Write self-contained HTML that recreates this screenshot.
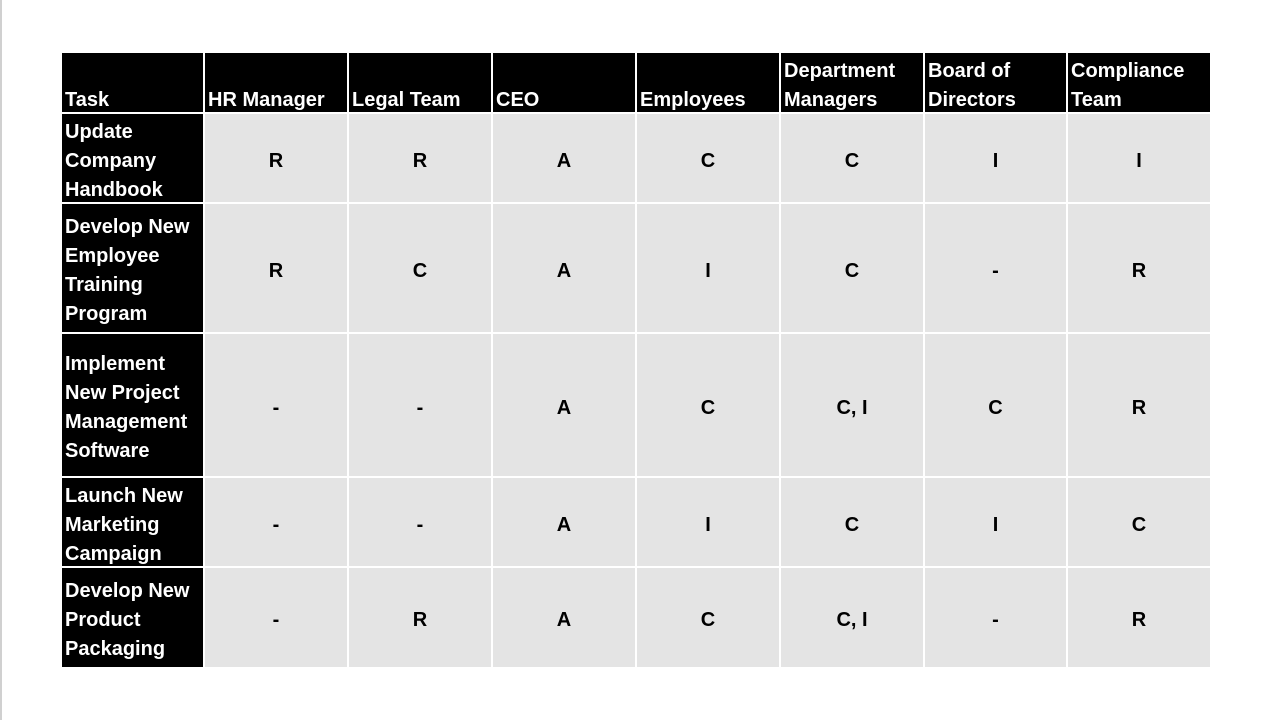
<!DOCTYPE html>
<html><head><meta charset="utf-8"><style>
body{margin:0;width:1280px;height:720px;background:#fff;position:relative;overflow:hidden;font-family:"Liberation Sans",sans-serif;font-weight:bold;}
.edge{position:absolute;left:0;top:0;width:2px;height:720px;background:#d0d0d0}
table{position:absolute;left:62px;top:53px;border-collapse:separate;border-spacing:0;}
td{padding:0;border-right:2px solid #fff;border-bottom:2px solid #fff;font-size:20px;line-height:29px;}
td span{position:relative;top:3px;}
tr.h td{background:#000;color:#fff;vertical-align:bottom;padding-left:3px;padding-bottom:1px;height:58px;}
tr.h td span{top:4px;}
td.t{background:#000;color:#fff;padding-left:3px;vertical-align:middle;}
td.c{background:#e4e4e4;color:#000;text-align:center;vertical-align:middle;}
</style></head><body>
<div class="edge"></div>
<table>
<colgroup><col style="width:143px"><col style="width:144px"><col style="width:144px"><col style="width:144px"><col style="width:144px"><col style="width:144px"><col style="width:143px"><col style="width:144px"></colgroup>
<tr class="h"><td><span>Task</span></td><td><span>HR Manager</span></td><td><span>Legal Team</span></td><td><span>CEO</span></td><td><span>Employees</span></td><td><span>Department<br>Managers</span></td><td><span>Board of<br>Directors</span></td><td><span>Compliance<br>Team</span></td></tr>
<tr style="height:90px"><td class="t"><span>Update<br>Company<br>Handbook</span></td><td class="c"><span>R</span></td><td class="c"><span>R</span></td><td class="c"><span>A</span></td><td class="c"><span>C</span></td><td class="c"><span>C</span></td><td class="c"><span>I</span></td><td class="c"><span>I</span></td></tr>
<tr style="height:130px"><td class="t"><span>Develop New<br>Employee<br>Training<br>Program</span></td><td class="c"><span>R</span></td><td class="c"><span>C</span></td><td class="c"><span>A</span></td><td class="c"><span>I</span></td><td class="c"><span>C</span></td><td class="c"><span>-</span></td><td class="c"><span>R</span></td></tr>
<tr style="height:144px"><td class="t"><span>Implement<br>New Project<br>Management<br>Software</span></td><td class="c"><span>-</span></td><td class="c"><span>-</span></td><td class="c"><span>A</span></td><td class="c"><span>C</span></td><td class="c"><span>C, I</span></td><td class="c"><span>C</span></td><td class="c"><span>R</span></td></tr>
<tr style="height:90px"><td class="t"><span>Launch New<br>Marketing<br>Campaign</span></td><td class="c"><span>-</span></td><td class="c"><span>-</span></td><td class="c"><span>A</span></td><td class="c"><span>I</span></td><td class="c"><span>C</span></td><td class="c"><span>I</span></td><td class="c"><span>C</span></td></tr>
<tr style="height:101px"><td class="t"><span>Develop New<br>Product<br>Packaging</span></td><td class="c"><span>-</span></td><td class="c"><span>R</span></td><td class="c"><span>A</span></td><td class="c"><span>C</span></td><td class="c"><span>C, I</span></td><td class="c"><span>-</span></td><td class="c"><span>R</span></td></tr>
</table>
</body></html>
